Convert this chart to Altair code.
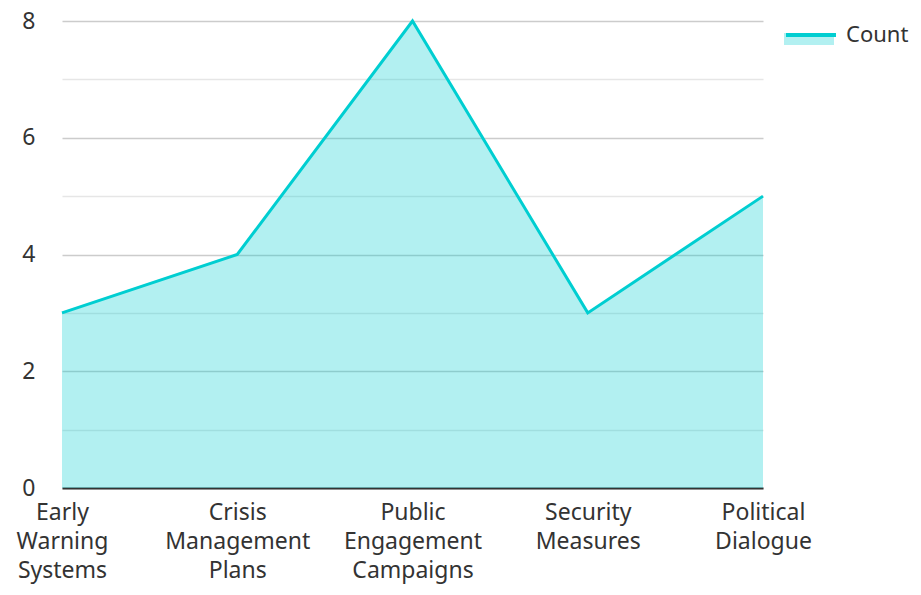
import altair as alt
import pandas as pd

categories = ["Early Warning Systems", "Crisis Management Plans", "Public Engagement Campaigns",
              "Security Measures", "Political Dialogue"]
counts = [3, 4, 8, 3, 5]
series = ["Count"] * len(categories)

df = pd.DataFrame({"category": categories, "count": counts, "series": series})

FONT = "Noto Sans"
x = alt.X("category:N", sort=categories, title=None,
          scale=alt.Scale(type="point", padding=0),
          axis=alt.Axis(labelAngle=0, labelExpr="split(datum.label, ' ')", labelFontSize=23,
                        labelLineHeight=29, labelPadding=13, labelColor="#333333", labelFont=FONT,
                        ticks=False, domainColor="#333333", domainWidth=2, grid=False))
y = alt.Y("count:Q", title=None,
          scale=alt.Scale(domain=[0, 8], nice=False),
          axis=alt.Axis(values=list(range(0, 9)), labelExpr="datum.value % 2 === 0 ? datum.label : ''",
                        labelFontSize=23, labelColor="#333333", labelFont=FONT, labelPadding=27,
                        ticks=False, domain=False,
                        gridColor={"condition": {"test": "datum.value % 2 === 0", "value": "#cccccc"},
                                   "value": "#e6e6e6"},
                        gridWidth=1.5))

area = alt.Chart(df).mark_area(opacity=0.3, line=False).encode(
    x=x, y=y,
    fill=alt.Fill("series:N", scale=alt.Scale(range=["#00CED1"]),
                  legend=alt.Legend(title=None, orient="none", legendX=722, legendY=-13,
                                    symbolType="M-1,0L1,0L1,0.48L-1,0.48Z", symbolSize=2500,
                                    symbolOpacity=0.3, symbolStrokeWidth=0,
                                    labelFontSize=22, labelFont=FONT, labelColor="rgba(0,0,0,0)",
                                    labelOffset=8)),
)
line = alt.Chart(df).mark_line(strokeWidth=3).encode(
    x=x, y=y,
    stroke=alt.Stroke("series:N", scale=alt.Scale(range=["#00CED1"]),
                      legend=alt.Legend(title=None, orient="none", legendX=722, legendY=-13,
                                        symbolType="stroke", symbolSize=2500, symbolStrokeWidth=4,
                                        labelFontSize=22, labelFont=FONT, labelColor="#333333",
                                        labelOffset=8)),
)

chart = alt.layer(area, line).properties(
    width=701, height=467,
    autosize=alt.AutoSizeParams(type="none"),
    padding={"left": 54, "top": 13, "right": 150, "bottom": 99},
).configure_view(stroke=None)

chart.save("out.html", embed_options={"renderer": "svg", "actions": False})
